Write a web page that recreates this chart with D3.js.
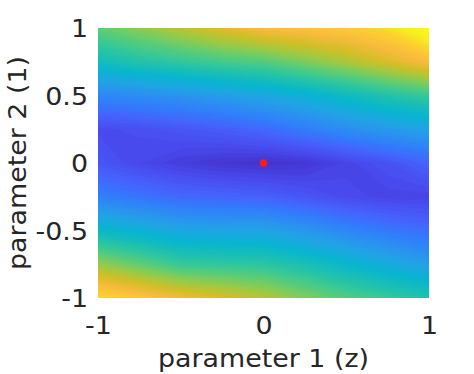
<!DOCTYPE html>
<html>
<head>
<meta charset="utf-8">
<script src="https://cdn.jsdelivr.net/npm/d3@7"></script>
<style>
body { margin: 0; background: #fff; }
text { font-family: "DejaVu Sans", sans-serif; fill: #262626; }
</style>
</head>
<body>
<div id="chart"></div>
<script>
// grid of the loss surface
var zValues = [-1, -0.75, -0.5, -0.25, 0, 0.25, 0.5, 0.75, 1];
var wValues = [1, 0.75, 0.5, 0.25, 0, -0.25, -0.5, -0.75, -1];
var lossRows = [
	[0.62, 0.67, 0.72, 0.77, 0.82, 0.84, 0.86, 0.90, 1.00],
	[0.48, 0.52, 0.55, 0.58, 0.60, 0.65, 0.70, 0.76, 0.82],
	[0.28, 0.30, 0.32, 0.35, 0.38, 0.42, 0.47, 0.52, 0.56],
	[0.12, 0.13, 0.15, 0.17, 0.20, 0.25, 0.30, 0.34, 0.37],
	[0.15, 0.11, 0.08, 0.06, 0.05, 0.06, 0.10, 0.14, 0.19],
	[0.26, 0.23, 0.20, 0.19, 0.18, 0.15, 0.12, 0.10, 0.10],
	[0.46, 0.42, 0.38, 0.37, 0.37, 0.33, 0.28, 0.24, 0.21],
	[0.68, 0.62, 0.56, 0.55, 0.54, 0.50, 0.45, 0.40, 0.35],
	[0.90, 0.85, 0.80, 0.76, 0.72, 0.66, 0.60, 0.56, 0.52]
];
var truePoint = [0, 0];

var xTickValues = [-1, 0, 1];
var xTickLabels = ["-1", "0", "1"];
var yTickValues = [1, 0.5, 0, -0.5, -1];
var yTickLabels = ["1", "0.5", "0", "-0.5", "-1"];
var xTitle = "parameter 1 (z)";
var yTitle = "parameter 2 (1)";

// parula (every 4th entry of the 64 colour map)
var parulaColors = [
	"#3e26a8", "#4537d5", "#484df0", "#4563fd", "#327cfc", "#2b91ef",
	"#20a5e3", "#08b5d0", "#19bfb6", "#37c897", "#64cd6f", "#9dc943",
	"#d1bf27", "#f8ba3d", "#fccf30", "#f6ef20", "#f9fb15"
];

var width = 474, height = 374;
var plot = { left: 98, right: 429, top: 28, bottom: 298 };
var stretch = 1.12;

var svg = d3.select("#chart").append("svg")
	.attr("width", width)
	.attr("height", height);

var x = d3.scaleLinear().domain([-1, 1]).range([plot.left, plot.right]);
var y = d3.scaleLinear().domain([-1, 1]).range([plot.bottom, plot.top]);

var colorStops = parulaColors.map(function (c, i) { return i / (parulaColors.length - 1); });
var color = d3.scaleLinear().domain(colorStops).range(parulaColors).clamp(true);

// flatten the rows for d3.contours (row 0 = top)
var nx = zValues.length, ny = wValues.length;
var values = [];
lossRows.forEach(function (row) { row.forEach(function (v) { values.push(v); }); });

var levels = 64;
var thresholds = d3.range(levels).map(function (i) { return i / levels; });
var contours = d3.contours().size([nx, ny]).thresholds(thresholds)(values);

var zStep = zValues[1] - zValues[0];
var wStep = wValues[1] - wValues[0];
var gridProjection = d3.geoTransform({
	point: function (gx, gy) {
		this.stream.point(
			x(zValues[0] + zStep * (gx - 0.5)),
			y(wValues[0] + wStep * (gy - 0.5))
		);
	}
});
var path = d3.geoPath(gridProjection);

svg.append("clipPath").attr("id", "plotClip")
	.append("rect")
	.attr("x", plot.left).attr("y", plot.top)
	.attr("width", plot.right - plot.left)
	.attr("height", plot.bottom - plot.top);

svg.append("g")
	.attr("clip-path", "url(#plotClip)")
	.selectAll("path")
	.data(contours)
	.enter()
	.append("path")
	.attr("d", path)
	.attr("fill", function (d) { return color(d.value + 0.5 / levels); })
	.attr("stroke", function (d) { return color(d.value + 0.5 / levels); })
	.attr("stroke-width", 0.6);

// true parameters
svg.append("circle")
	.attr("cx", x(truePoint[0]))
	.attr("cy", y(truePoint[1]))
	.attr("r", 3.8)
	.attr("fill", "#f01d24");

// axes
var xAxis = d3.axisBottom(x)
	.tickValues(xTickValues)
	.tickFormat(function (d, i) { return xTickLabels[i]; })
	.tickSize(0);
var gx = svg.append("g")
	.attr("transform", "translate(0," + plot.bottom + ")")
	.call(xAxis);
gx.select(".domain").remove();
gx.selectAll("text")
	.attr("font-size", 24)
	.attr("font-family", "DejaVu Sans")
	.attr("y", 36)
	.attr("dy", 0)
	.attr("transform", "scale(" + stretch + ",1)");

var yAxis = d3.axisLeft(y)
	.tickValues(yTickValues)
	.tickFormat(function (d, i) { return yTickLabels[i]; })
	.tickSize(0);
var gy = svg.append("g")
	.attr("transform", "translate(" + plot.left + ",0)")
	.call(yAxis);
gy.select(".domain").remove();
gy.selectAll("text")
	.attr("font-size", 24)
	.attr("font-family", "DejaVu Sans")
	.attr("x", -10 / stretch)
	.attr("dy", 8.7)
	.attr("transform", "scale(" + stretch + ",1)");

// axis titles
svg.append("text")
	.attr("transform", "translate(" + ((plot.left + plot.right) / 2) + ",367) scale(" + stretch + ",1)")
	.attr("text-anchor", "middle")
	.attr("font-size", 24)
	.text(xTitle);

svg.append("text")
	.attr("transform", "translate(26," + ((plot.top + plot.bottom) / 2) + ") rotate(-90) scale(" + stretch + ",1)")
	.attr("text-anchor", "middle")
	.attr("font-size", 24)
	.text(yTitle);
</script>
</body>
</html>
